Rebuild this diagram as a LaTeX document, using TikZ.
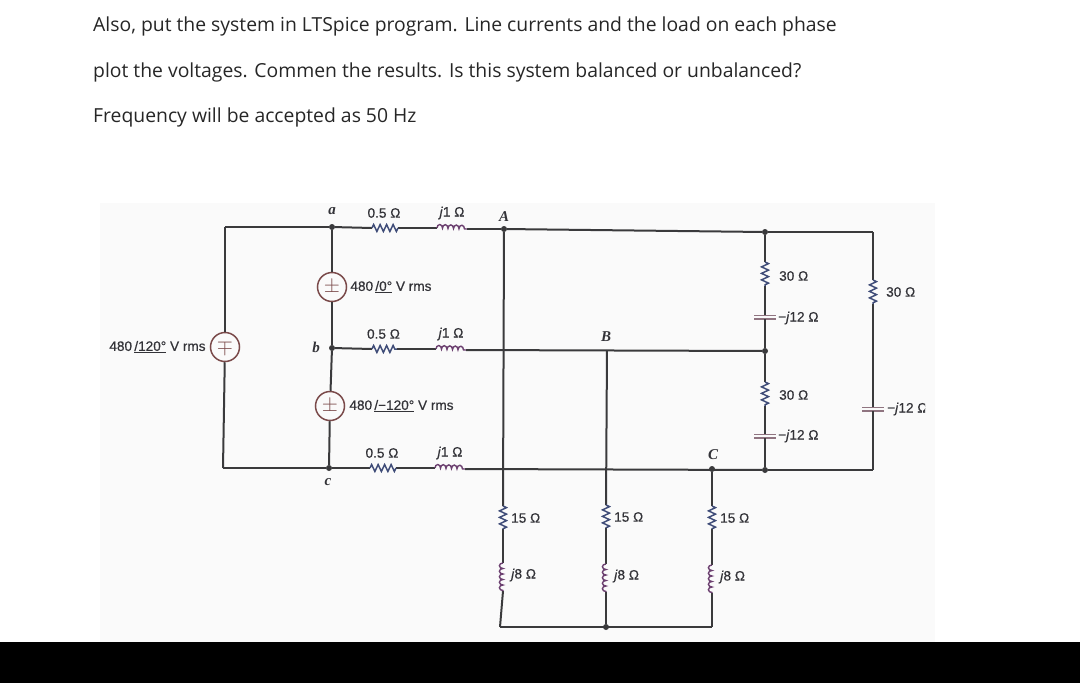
\documentclass[tikz,border=0pt]{standalone}
\usepackage{fontspec}
\setmainfont{Liberation Sans}
\newfontfamily\valfont[FakeBold=0.5]{Liberation Sans}
\newfontfamily\topfont{Open Sans}
\newfontfamily\letterfont{Liberation Serif}
\usetikzlibrary{positioning}
\usetikzlibrary{decorations.pathmorphing}
\definecolor{wirecol}{HTML}{3A3A3C}
\definecolor{rescol}{HTML}{3F4C78}
\definecolor{indcol}{HTML}{6C4070}
\definecolor{capcol}{HTML}{8F7480}
\definecolor{srccol}{HTML}{7A4A4A}
\definecolor{txtcol}{HTML}{333338}
\definecolor{paper}{HTML}{FAFAFA}
\tikzset{main node/.style={circle,draw=srccol,line width=1.5pt,minimum size=29pt,inner sep=0pt,fill=paper,text=srccol,font=\fontsize{21}{21}\selectfont},
  wire/.style={draw=wirecol,line width=2pt},
  res/.style={draw=rescol,line width=1.5pt,decorate,decoration={zigzag,segment length=6.5pt,amplitude=3.4pt}},
  ind/.style={draw=indcol,line width=1.4pt,decorate,decoration={bumps,segment length=11pt,amplitude=3.6pt}},
  indv/.style={ind,decoration={bumps,segment length=11pt,amplitude=3.6pt,mirror}},
  cap node/.style={rectangle,minimum width=22pt,minimum height=4pt,inner sep=0pt,fill=paper,
    path picture={\draw[capcol,line width=2.4pt] (path picture bounding box.north west) -- (path picture bounding box.north east)
      (path picture bounding box.south west) -- (path picture bounding box.south east);}},
  jdot/.style={circle,fill=wirecol,minimum size=6pt,inner sep=0pt},
  val/.style={text=txtcol,font=\valfont\fontsize{13.6}{15}\selectfont,inner sep=0pt},
  letter/.style={text=txtcol,font=\letterfont\bfseries\itshape\fontsize{15}{17}\selectfont,inner sep=0pt},
  topline/.style={anchor=west,inner sep=0pt,text=black!85,font=\topfont\fontsize{19.35}{22}\selectfont}}
\newcommand{\ohm}{\ Ω}
\begin{document}
\begin{tikzpicture}[x=1pt,y=-1pt]
   \useasboundingbox (0,0) rectangle (1080,683);
   \fill[paper] (100,203) rectangle (935,642);
   \fill[black] (0,642) rectangle (1080,683);

   \node[topline] (line1) at (93,26) {Also, put the system in LTSpice program. Line currents and the load on each phase};
   \node[topline] (line2) at (93,72) {plot the voltages. Commen the results. Is this system balanced or unbalanced?};
   \node[topline] (line3) at (93,117) {Frequency will be accepted as 50 Hz};

   % junctions
   \node[jdot] (a) at (332,227) {};
   \node[jdot] (b) at (332,348) {};
   \node[jdot] (c) at (329,468) {};
   \node[jdot] (A) at (504,229) {};
   \node[jdot] (C) at (712,469) {};
   \node[jdot] (n) at (606,627) {};
   \node[jdot] (t1) at (765,232) {};
   \node[jdot] (t2) at (765,351) {};
   \node[jdot] (t3) at (765,470) {};
   \coordinate (B) at (607,350);
   \coordinate (ctl) at (225,227);
   \coordinate (cbl) at (223,468);
   \coordinate (ctr) at (873,232);
   \coordinate (cbr) at (873,470);
   \coordinate (blA) at (500,627);
   \coordinate (blC) at (712,627);

   % sources
   \node[main node] (va) at (332,287) {$\pm$};
   \node[main node] (vb) at (330,406) {$\pm$};
   \node[main node] (vc) at (225,347) {$\mp$};
   \node[val,right=3pt of va] (vat) {480\,\underline{/0°} V rms};
   \node[val,right=4pt of vb] (vbt) {480\,\underline{/−120°} V rms};
   \node[val,left=4pt of vc] (vct) {480\,\underline{/120°} V rms};

   % line impedances
   \foreach \n/\ya/\yb/\xa/\xb/\xc/\xd in {a/228/229/372/398/437/467,b/349/350/372/397/436/466,c/468/469/370/396/435/465} {
     \coordinate (r\n1) at (\xa,\ya);
     \coordinate (r\n2) at (\xb,\ya);
     \coordinate (l\n1) at (\xc,\ya);
     \coordinate (l\n2) at (\xd,\yb);
     \node[val] (rt\n) at ({(\xa+\xb)/2-1},\ya-15) {0.5\ohm};
     \node[val] (lt\n) at ({(\xc+\xd)/2},\ya-15) {\textit{j}1\ohm};
   }

   % load branches
   \foreach \m/\x/\rt/\lt in {p/503/506/563,q/606/505/564,s/712/506/565} {
     \coordinate (rb\m1) at (\x,\rt);
     \coordinate (rb\m2) at (\x,\rt+23);
     \coordinate (lb\m1) at (\x,\lt);
     \coordinate (lb\m2) at (\x,\lt+28);
     \node[val,anchor=west] (rbt\m) at (\x+8,\rt+12) {15\ohm};
     \node[val,anchor=west] (lbt\m) at (\x+8,\lt+12) {\textit{j}8\ohm};
   }

   % delta branches
   \coordinate (d1a) at (765,262);
   \coordinate (d1b) at (765,286);
   \coordinate (d2a) at (765,382);
   \coordinate (d2b) at (765,406);
   \coordinate (d3a) at (873,280);
   \coordinate (d3b) at (873,304);
   \node[cap node] (c1) at (765,317) {};
   \node[cap node] (c2) at (765,436) {};
   \node[cap node] (c3) at (873,409) {};
   \node[val,anchor=west] (d1t) at (779,276) {30\ohm};
   \node[val,anchor=west] (d2t) at (779,395) {30\ohm};
   \node[val,anchor=west] (d3t) at (886,292) {30\ohm};
   \node[val,anchor=west] (c1t) at (778,318) {−\textit{j}12\ohm};
   \node[val,anchor=west] (c2t) at (778,436) {−\textit{j}12\ohm};
   \begin{scope}
     \clip (880,395) rectangle (925,425);
     \node[val,anchor=west] (c3t) at (887,409) {−\textit{j}12\ohm};
   \end{scope}

   % letters
   \node[letter] (at) at (332,211) {a};
   \node[letter] (bt) at (316,347) {b};
   \node[letter] (ct) at (328,482) {c};
   \node[letter] (At) at (504,217) {A};
   \node[letter] (Bt) at (606,337) {B};
   \node[letter] (Ct) at (713,455) {C};

   \path[wire]
    (ctl) edge (a)
    (ctl) edge (vc)
    (cbl) edge (vc)
    (cbl) edge (c)
    (a) edge (va)
    (va) edge (b)
    (b) edge (vb)
    (vb) edge (c)
    (a) edge (ra1)
    (ra2) edge (la1)
    (la2) edge (A)
    (b) edge (rb1)
    (rb2) edge (lb1)
    (lb2) edge (t2)
    (c) edge (rc1)
    (rc2) edge (lc1)
    (lc2) edge (t3)
    (A) edge (t1)
    (t1) edge (ctr)
    (t3) edge (cbr)
    (A) edge (rbp1)
    (rbp2) edge (lbp1)
    (lbp2) edge (blA)
    (blA) edge (blC)
    (B) edge (rbq1)
    (rbq2) edge (lbq1)
    (lbq2) edge (n)
    (C) edge (rbs1)
    (rbs2) edge (lbs1)
    (lbs2) edge (blC)
    (t1) edge (d1a)
    (d1b) edge (c1)
    (c1) edge (t2)
    (t2) edge (d2a)
    (d2b) edge (c2)
    (c2) edge (t3)
    (ctr) edge (d3a)
    (d3b) edge (c3)
    (c3) edge (cbr);

   \path
    (ra1) edge[res] (ra2)
    (rb1) edge[res] (rb2)
    (rc1) edge[res] (rc2)
    (rbp1) edge[res] (rbp2)
    (rbq1) edge[res] (rbq2)
    (rbs1) edge[res] (rbs2)
    (d1a) edge[res] (d1b)
    (d2a) edge[res] (d2b)
    (d3a) edge[res] (d3b)
    (la1) edge[ind] (la2)
    (lb1) edge[ind] (lb2)
    (lc1) edge[ind] (lc2)
    (lbp1) edge[indv] (lbp2)
    (lbq1) edge[indv] (lbq2)
    (lbs1) edge[indv] (lbs2);
  \end{tikzpicture}
\end{document}
